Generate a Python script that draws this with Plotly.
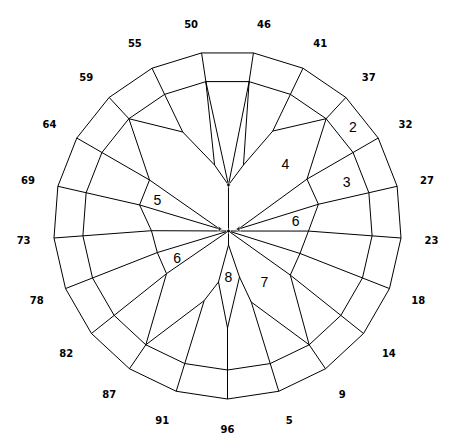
import plotly.graph_objects as go

# angular categories, counter-clockwise starting just right of the bottom
categories = ["5", "9", "14", "18", "23", "27", "32", "37", "41", "46", "50",
              "55", "59", "64", "69", "73", "78", "82", "87", "91", "96"]
step = 360 / len(categories)

# outline of the covered centre: position in category units, radius
outline_pos = [10, 9, 8.63, 8, 7, 6, 5, 4, 3, 2, 1, 0, 20.758, 20, 19.475,
               19, 18, 17, 16, 15, 14, 13, 12, 11, 10.21, 10]
outline_r = [10, 10, 4.28, 7.19, 10, 6.33, 6.43, 5.6, 5.37, 5.54, 10, 5.56,
             3.68, 7.1, 3.98, 5.46, 10, 5.38, 5.2, 5.26, 6.22, 6.21, 10,
             7.12, 4.23, 10]

# hub points
hub_pos = {"h1": 20.55, "h2": 9.42, "al": 16.30, "ar": 3.08, "dt": 20.17}
hub_r = {"h1": 0.42, "h2": 2.76, "al": 0.61, "ar": 0.81, "dt": 1.38}

# inner segments: (start hub, end position, end radius)
segments = [
    ("h2", 10, 10), ("h2", 9, 10), ("h2", 10.21, 4.23), ("h2", 8.63, 4.28),
    ("h2", hub_pos["h1"], hub_r["h1"]),
    ("h1", hub_pos["dt"], hub_r["dt"]),
    ("dt", 19.475, 3.98), ("dt", 20.758, 3.68),
    ("h1", 2, 5.54), ("h1", 3, 5.37), ("h1", 4, 5.6), ("h1", 15, 5.26),
    ("ar", 5, 6.43), ("ar", 6, 6.33),
    ("al", 13, 6.21), ("al", 14, 6.22),
    ("h1", 16, 5.2), ("h1", 17, 5.38),
]

# value labels
label_text = ["2", "3", "4", "5", "6", "6", "7", "8"]
label_pos = [6.44, 5.36, 6.93, 13.65, 4.35, 16.745, 0.896, 20.06]
label_r = [10.9, 8.7, 5.75, 5.1, 4.7, 4.2, 4.75, 3.7]


def deg(p):
    return [None if v is None else v * step for v in p]


fig = go.Figure()

# keeps the category axis populated
fig.add_trace(go.Scatterpolar(
    r=[0] * len(categories), theta=categories, mode="markers",
    marker=dict(opacity=0), hoverinfo="skip", subplot="polar",
))

fig.add_trace(go.Scatterpolar(
    r=outline_r, theta=deg(outline_pos), mode="lines", fill="toself",
    fillcolor="white", line=dict(color="black", width=1),
    hoverinfo="skip", subplot="polar2",
))

seg_r, seg_p = [], []
for start, p, r in segments:
    seg_r += [hub_r[start], r, None]
    seg_p += [hub_pos[start], p, None]
fig.add_trace(go.Scatterpolar(
    r=seg_r, theta=deg(seg_p), mode="lines",
    line=dict(color="black", width=1), hoverinfo="skip", subplot="polar2",
))

fig.add_trace(go.Scatterpolar(
    r=[hub_r["h1"], hub_r["h2"], hub_r["al"], hub_r["ar"]],
    theta=deg([hub_pos["h1"], hub_pos["h2"], hub_pos["al"], hub_pos["ar"]]),
    mode="markers",
    marker=dict(color="black", size=[4, 4, 6, 6],
                symbol=["circle", "circle", "triangle-right", "triangle-left"]),
    hoverinfo="skip", subplot="polar2",
))

fig.add_trace(go.Scatterpolar(
    r=label_r, theta=deg(label_pos), mode="text", text=label_text,
    textfont=dict(family="Liberation Sans", size=14, color="black"),
    hoverinfo="skip", subplot="polar2",
))

fig.update_layout(
    template="none",
    width=451, height=448,
    showlegend=False,
    paper_bgcolor="white",
    margin=dict(l=44, r=56, t=43, b=57),
    polar=dict(
        domain=dict(x=[0, 1], y=[0, 1]),
        gridshape="linear",
        bgcolor="white",
        angularaxis=dict(
            type="category", categoryarray=categories, categoryorder="array",
            direction="counterclockwise", rotation=270 + step,
            showline=True, linecolor="black", linewidth=1,
            gridcolor="black", gridwidth=1,
            ticks="outside", ticklen=21, tickcolor="rgba(0,0,0,0)",
            tickfont=dict(family="DejaVu Sans", size=10, color="black", weight="bold"),
        ),
        radialaxis=dict(
            range=[0, 12], tickvals=[10], showticklabels=False, ticks="",
            showline=False, gridcolor="black", gridwidth=1,
        ),
    ),
    polar2=dict(
        domain=dict(x=[0, 1], y=[0, 1]),
        bgcolor="rgba(0,0,0,0)",
        angularaxis=dict(type="linear", direction="counterclockwise",
                         rotation=270 + step, visible=False),
        radialaxis=dict(range=[0, 12], visible=False),
    ),
)

fig.write_html("out.html")
